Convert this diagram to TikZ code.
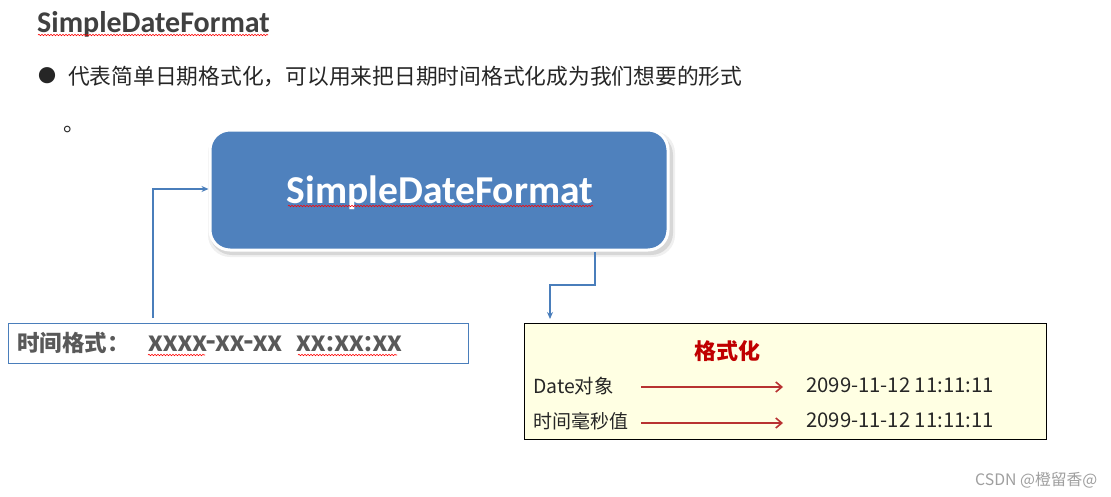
\documentclass[tikz,border=0pt]{standalone}
\usepackage{fontspec}
\setmainfont{Carlito}
\newfontfamily\cjk{Noto Sans CJK SC}
\newfontfamily\carl{Carlito}
\usetikzlibrary{arrows.meta,decorations.pathmorphing}
\definecolor{blueA}{HTML}{4F81BD}
\definecolor{lineB}{HTML}{4A7EBB}
\definecolor{txtG}{HTML}{404040}
\definecolor{txtD}{HTML}{262626}
\definecolor{grayB}{HTML}{595959}
\definecolor{redD}{HTML}{C00000}
\definecolor{arrR}{HTML}{B83232}
\definecolor{yel}{HTML}{FFFFE3}
\tikzset{
  conn/.style={draw=lineB, line width=2.4pt, -{Stealth[length=7pt,width=6pt]}},
  redarrow/.style={draw=arrR, line width=1.6pt, -{Straight Barb[length=6pt,width=10pt]}},
  wavy/.style={draw=red, line width=0.6pt, decorate, decoration={snake, amplitude=0.7pt, segment length=3pt}},
  txt/.style={inner sep=0pt, anchor=west},
}
\begin{document}
\begin{tikzpicture}[x=1pt,y=-1pt]
\useasboundingbox[fill=white] (0,0) rectangle (1111,496);
% title
\node[txt, text=txtG, anchor=base west] (title) at (37,32) {\carl\bfseries\fontsize{30}{34}\selectfont SimpleDateFormat};
\draw[wavy] (38,35) -- (268,35);
% bullet line
\node[txt, text=txtD] (bullet) at (38,76) {\cjk\fontsize{18}{22}\selectfont ●};
\node[txt, text=txtD] (desc) at (68,76) {\cjk\fontsize{21.75}{26}\selectfont 代表简单日期格式化，可以用来把日期时间格式化成为我们想要的形式};
\node[txt, text=txtD] (dot) at (63,130) {\cjk\fontsize{21.75}{26}\selectfont 。};
% blue box with shadow
\fill[black, opacity=0.10, rounded corners=22pt] (210,133) rectangle (673,255);
\fill[black, opacity=0.06, rounded corners=22pt] (208,131) rectangle (675,257);
\node[draw=white, line width=3pt, fill=blueA, rounded corners=20pt, minimum width=458pt, minimum height=120pt, inner sep=0pt] (sdf) at (439,190) {};
\node[text=white, anchor=base, inner sep=0pt] (sdfT) at (440,203) {\carl\bfseries\fontsize{39.5}{44}\selectfont SimpleDateFormat};
\draw[wavy] (288,206) -- (593,206);
% left box
\node[draw=lineB, line width=1pt, minimum width=460pt, minimum height=40pt, inner sep=0pt, anchor=north west] (fmt) at (8,323) {};
\node[txt, text=grayB] (fmtA) at (17,343) {\cjk\bfseries\fontsize{22.5}{26}\selectfont 时间格式：};
\node[txt, text=grayB, anchor=base west] (fmtB) at (148,351) {\carl\bfseries\fontsize{32}{36}\selectfont xxxx-xx-xx\hspace{14pt}xx:xx:xx};
\draw[wavy] (148,355) -- (205,355);
\draw[wavy] (298,355) -- (397,355);
% right box
\node[draw=black, line width=1pt, fill=yel, minimum width=522pt, minimum height=116pt, inner sep=0pt, anchor=north west] (res) at (524,323) {};
\node[text=redD, inner sep=0pt] (resT) at (727,351) {\cjk\bfseries\fontsize{22}{26}\selectfont 格式化};
\node[txt, text=txtD] (dateL) at (533,386) {\cjk\fontsize{19.4}{23}\selectfont Date对象};
\node[txt, text=txtD] (msL) at (533,421) {\cjk\fontsize{19}{23}\selectfont 时间毫秒值};
\node[txt, text=txtD] (dateR) at (806,385) {\cjk\fontsize{20.3}{24}\selectfont 2099-11-12 11:11:11};
\node[txt, text=txtD] (msR) at (806,420) {\cjk\fontsize{20.3}{24}\selectfont 2099-11-12 11:11:11};
\coordinate (a1s) at (641,387);
\coordinate (a1e) at (783,387);
\coordinate (a2s) at (641,423);
\coordinate (a2e) at (783,423);
\draw[redarrow] (a1s) -- (a1e);
\draw[redarrow] (a2s) -- (a2e);
% connectors
\coordinate (c1) at (153,318);
\draw[conn] (c1) |- (sdf.west |- 0,189);
\coordinate (c2) at (595,252);
\draw[conn] (c2) -- (595,285) -| (550,319);
% watermark
\node[txt, text=gray!75] (wm) at (975,480) {\cjk\fontsize{15.8}{18}\selectfont CSDN @橙留香@};
\end{tikzpicture}
\end{document}
